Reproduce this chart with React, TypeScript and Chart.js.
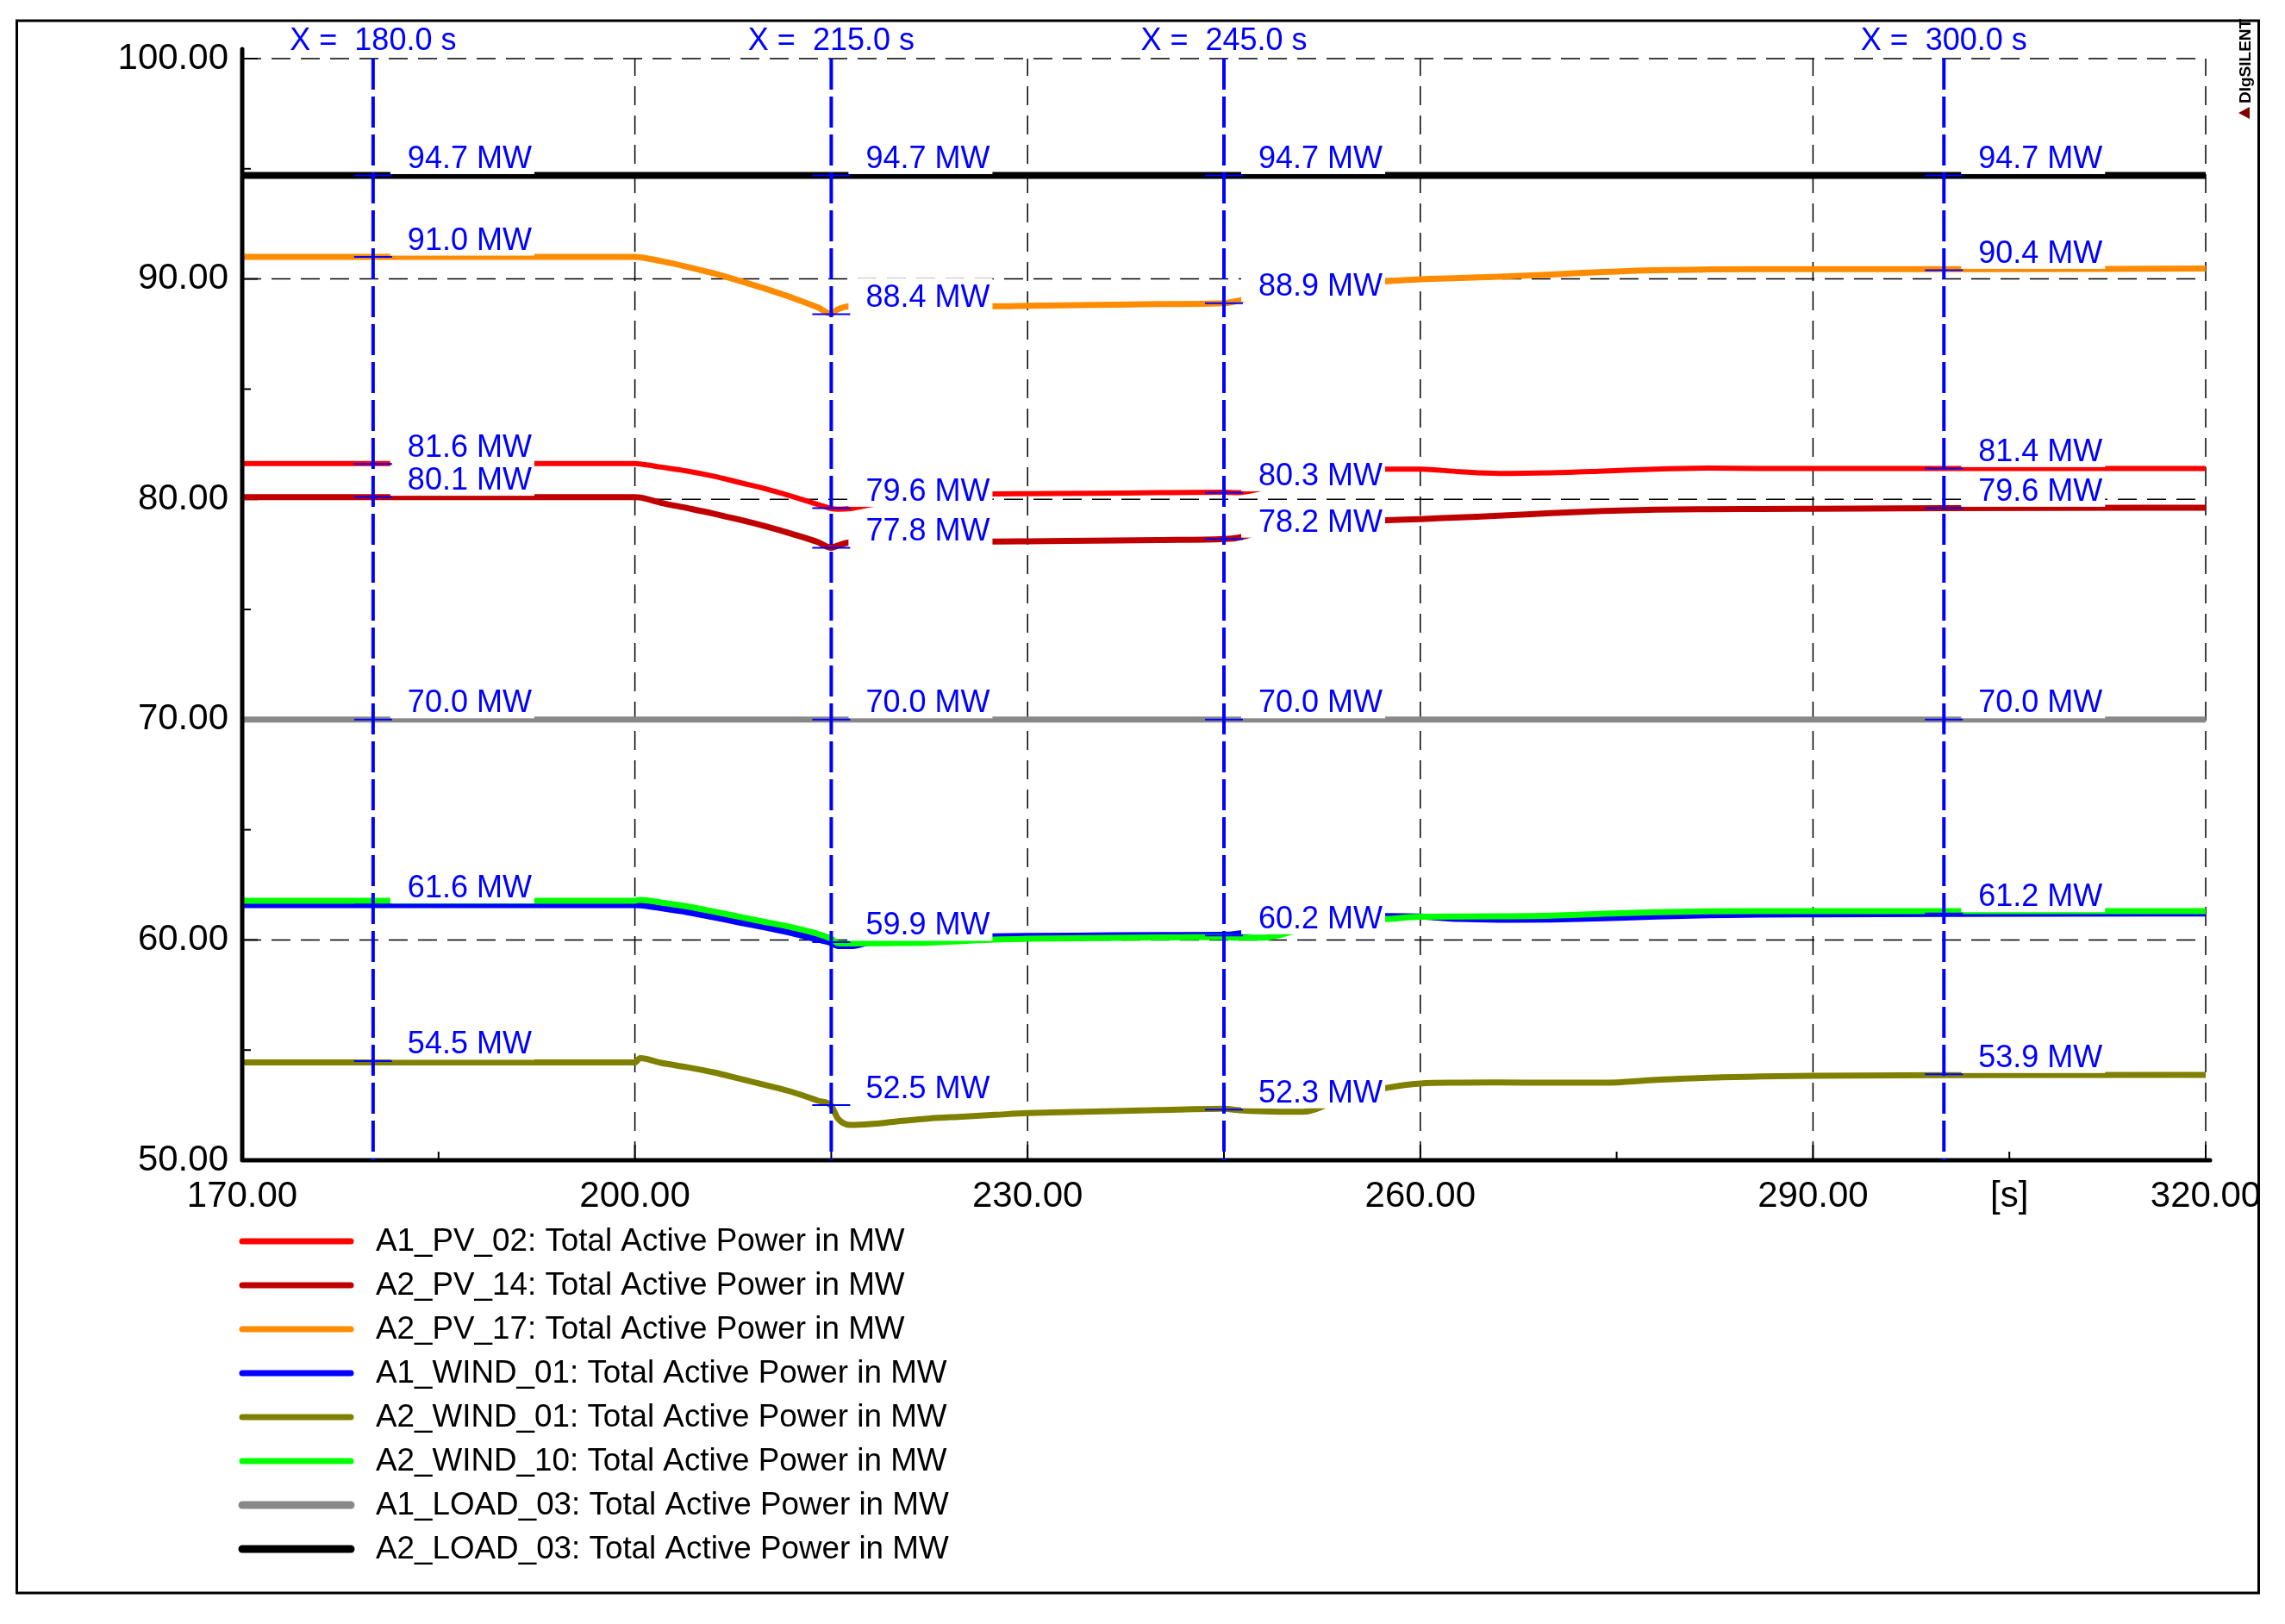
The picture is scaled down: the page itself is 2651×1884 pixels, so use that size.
import React, { useEffect, useRef } from 'react';
import { Chart, registerables } from 'chart.js';

Chart.register(...registerables);

const FONT = '"Liberation Sans", Arial, Helvetica, sans-serif';

// ---------- data ----------
const time = [170, 200, 200.4, 202, 204, 206, 208, 210, 212, 214, 215, 215.5, 216.5, 218, 220, 222.5, 225, 227.5, 230, 235, 240, 245, 246, 248, 251, 254, 257.5, 260, 263, 266, 270, 274, 278, 282, 286, 290, 300, 320];
const loadTime = [170, 320];

const a1Pv02 = [81.62, 81.62, 81.6, 81.46, 81.28, 81.05, 80.76, 80.47, 80.13, 79.76, 79.58, 79.55, 79.58, 79.75, 79.98, 80.13, 80.2, 80.24, 80.25, 80.27, 80.3, 80.32, 80.3, 80.5, 81.0, 81.3, 81.37, 81.37, 81.25, 81.17, 81.2, 81.28, 81.37, 81.42, 81.4, 81.4, 81.4, 81.4];
const a2Pv14 = [80.1, 80.1, 80.08, 79.84, 79.6, 79.35, 79.07, 78.77, 78.43, 78.05, 77.8, 77.9, 78.05, 78.06, 78.06, 78.07, 78.08, 78.08, 78.09, 78.12, 78.15, 78.2, 78.25, 78.55, 78.85, 78.98, 79.05, 79.1, 79.18, 79.25, 79.37, 79.47, 79.53, 79.55, 79.56, 79.57, 79.6, 79.62];
const a2Pv17 = [91.0, 91.0, 90.98, 90.81, 90.55, 90.26, 89.91, 89.55, 89.15, 88.7, 88.42, 88.62, 88.76, 88.76, 88.75, 88.75, 88.76, 88.76, 88.78, 88.82, 88.86, 88.9, 89.0, 89.3, 89.6, 89.8, 89.9, 89.98, 90.04, 90.1, 90.2, 90.32, 90.4, 90.43, 90.44, 90.44, 90.44, 90.47];
const a1Wind01 = [61.58, 61.58, 61.57, 61.44, 61.26, 61.03, 60.79, 60.56, 60.31, 60.01, 59.86, 59.72, 59.72, 59.9, 60.0, 60.08, 60.13, 60.16, 60.18, 60.2, 60.22, 60.23, 60.28, 60.5, 60.85, 61.05, 61.08, 61.06, 60.95, 60.92, 60.93, 60.98, 61.06, 61.12, 61.15, 61.16, 61.18, 61.2];
const a2Wind01 = [54.44, 54.44, 54.64, 54.42, 54.22, 53.99, 53.7, 53.41, 53.1, 52.7, 52.47, 51.9, 51.6, 51.64, 51.76, 51.9, 51.98, 52.06, 52.14, 52.21, 52.28, 52.34, 52.28, 52.22, 52.2, 52.8, 53.29, 53.48, 53.52, 53.53, 53.52, 53.52, 53.65, 53.75, 53.8, 53.83, 53.86, 53.87];
const a2Wind10 = [61.78, 61.78, 61.82, 61.7, 61.52, 61.29, 61.05, 60.81, 60.57, 60.27, 60.05, 59.85, 59.84, 59.85, 59.86, 59.88, 59.95, 60.02, 60.05, 60.08, 60.11, 60.13, 60.1, 60.1, 60.5, 60.85, 60.95, 61.05, 61.06, 61.07, 61.1, 61.19, 61.26, 61.3, 61.31, 61.31, 61.31, 61.31];
const a1Load03 = [70.0, 70.0];
const a2Load03 = [94.7, 94.7];

const seriesNames = ['A1_PV_02', 'A2_PV_14', 'A2_PV_17', 'A1_WIND_01', 'A2_WIND_01', 'A2_WIND_10', 'A1_LOAD_03', 'A2_LOAD_03'];
const seriesSuffix = ': Total Active Power in MW';

// ticks
const xTicks = [170, 185, 200, 215, 230, 245, 260, 275, 290, 305, 320];
const xMajorTicks = [170, 200, 230, 260, 290, 320];
const xUnitTick = 305;
const xUnitLabel = '[s]';
const yTicks = [50, 55, 60, 65, 70, 75, 80, 85, 90, 95, 100];
const yMajorTicks = [50, 60, 70, 80, 90, 100];

// cursors and readouts
const cursorTimes = [180, 215, 245, 300];
const readout180 = [94.7, 91.0, 81.6, 80.1, 70.0, 61.6, 54.5];
const readout215 = [94.7, 88.4, 79.6, 77.8, 70.0, 59.9, 52.5];
const readout245 = [94.7, 88.9, 80.3, 78.2, 70.0, 60.2, 52.3];
const readout300 = [94.7, 90.4, 81.4, 79.6, 70.0, 61.2, 53.9];

// ---------- styles ----------
const colors = ['#FF0000', '#C00000', '#FF8C00', '#0000FF', '#808000', '#00FF00', '#888888', '#000000'];
const lineWidths = [6, 7, 7, 7, 7, 7, 7, 8];
const legendWidths = [7, 7, 7, 7, 7, 7, 9, 9];

const xSeries = [time, time, time, time, time, time, loadTime, loadTime];
const ySeries = [a1Pv02, a2Pv14, a2Pv17, a1Wind01, a2Wind01, a2Wind10, a1Load03, a2Load03];
const readouts = [readout180, readout215, readout245, readout300];

const line = (ctx: CanvasRenderingContext2D, x1: number, y1: number, x2: number, y2: number) => {
  ctx.beginPath();
  ctx.moveTo(x1, y1);
  ctx.lineTo(x2, y2);
  ctx.stroke();
};

const overlayPlugin = {
  id: 'pfOverlay',
  beforeDraw(chart: any) {
    const { ctx, width, height } = chart;
    ctx.save();
    ctx.fillStyle = '#FFFFFF';
    ctx.fillRect(0, 0, width, height);
    ctx.restore();
  },
  beforeDatasetsDraw(chart: any) {
    const { ctx, chartArea: a } = chart;
    const xs = chart.scales.x;
    const ys = chart.scales.y;
    ctx.save();
    ctx.strokeStyle = '#000000';
    ctx.lineWidth = 1.5;
    ctx.setLineDash([22, 12]);
    xMajorTicks.filter((v) => v !== xs.min).forEach((v) => {
      const px = xs.getPixelForValue(v);
      line(ctx, px, a.bottom, px, a.top);
    });
    yMajorTicks.filter((v) => v !== ys.min).forEach((v) => {
      const py = ys.getPixelForValue(v);
      line(ctx, a.left, py, a.right, py);
    });
    ctx.setLineDash([]);
    ctx.lineWidth = 2;
    xs.ticks.forEach((t: any) => {
      const px = xs.getPixelForValue(t.value);
      const len = xMajorTicks.includes(t.value) ? 18 : 10;
      line(ctx, px, a.bottom, px, a.bottom - len);
    });
    ys.ticks.forEach((t: any) => {
      const py = ys.getPixelForValue(t.value);
      const len = yMajorTicks.includes(t.value) ? 18 : 10;
      line(ctx, a.left, py, a.left + len, py);
    });
    ctx.restore();
  },
  afterDatasetsDraw(chart: any) {
    const { ctx, chartArea: a } = chart;
    const xs = chart.scales.x;
    const ys = chart.scales.y;
    ctx.save();
    // axes
    ctx.strokeStyle = '#000000';
    ctx.lineWidth = 5;
    ctx.lineCap = 'round';
    ctx.lineJoin = 'round';
    ctx.beginPath();
    ctx.moveTo(a.left, a.top - 11);
    ctx.lineTo(a.left, a.bottom);
    ctx.lineTo(a.right + 5, a.bottom);
    ctx.stroke();
    ctx.lineCap = 'butt';

    // value labels with white boxes
    ctx.font = `36px ${FONT}`;
    ctx.textAlign = 'left';
    ctx.textBaseline = 'alphabetic';
    cursorTimes.forEach((t, k) => {
      const cx = xs.getPixelForValue(t);
      readouts[k].forEach((v) => {
        const vy = ys.getPixelForValue(v);
        const text = `${v.toFixed(1)} MW`;
        const w = ctx.measureText(text).width;
        const base = vy - 8.5;
        ctx.fillStyle = '#FFFFFF';
        ctx.fillRect(cx + 20, base - 33, w + 23, 40);
        ctx.fillStyle = '#0000FF';
        ctx.fillText(text, cx + 40, base);
      });
    });

    // cursor lines
    ctx.strokeStyle = '#0000FF';
    ctx.lineWidth = 4;
    ctx.setLineDash([36, 8]);
    cursorTimes.forEach((t) => {
      const cx = xs.getPixelForValue(t);
      line(ctx, cx, a.top, cx, a.bottom);
    });
    ctx.setLineDash([]);
    ctx.lineWidth = 2;
    cursorTimes.forEach((t, k) => {
      const cx = xs.getPixelForValue(t);
      readouts[k].forEach((v) => {
        const vy = ys.getPixelForValue(v);
        line(ctx, cx - 22, vy, cx + 22, vy);
      });
    });
    // cursor captions
    ctx.fillStyle = '#0000FF';
    ctx.textAlign = 'center';
    ctx.font = `36px ${FONT}`;
    cursorTimes.forEach((t) => {
      const cx = xs.getPixelForValue(t);
      ctx.fillText(`X =  ${t.toFixed(1)} s`, cx, a.top - 10);
    });
    ctx.restore();
  },
  afterDraw(chart: any) {
    const { ctx } = chart;
    ctx.save();
    // legend
    ctx.font = `36.8px ${FONT}`;
    ctx.textAlign = 'left';
    ctx.textBaseline = 'middle';
    ctx.lineCap = 'round';
    chart.data.datasets.forEach((ds: any, i: number) => {
      const ly = 1440 + i * 51;
      ctx.strokeStyle = ds.borderColor;
      ctx.lineWidth = legendWidths[i];
      line(ctx, 281, ly, 407, ly);
      ctx.fillStyle = '#000000';
      ctx.fillText(ds.label, 436, ly + 1);
    });
    // logo
    ctx.save();
    ctx.translate(2611, 120);
    ctx.rotate(-Math.PI / 2);
    ctx.font = `bold 19px ${FONT}`;
    ctx.fillStyle = '#000000';
    ctx.textBaseline = 'alphabetic';
    ctx.textAlign = 'left';
    ctx.fillText('DIgSILENT', 0, 0);
    ctx.restore();
    ctx.fillStyle = '#800000';
    ctx.beginPath();
    ctx.moveTo(2597, 131);
    ctx.lineTo(2610, 124);
    ctx.lineTo(2610, 138);
    ctx.closePath();
    ctx.fill();
    // frame
    ctx.strokeStyle = '#000000';
    ctx.lineWidth = 3;
    ctx.lineCap = 'butt';
    ctx.strokeRect(19.5, 24, 2601, 1824);
    ctx.restore();
  },
};

export default function App() {
  const ref = useRef<HTMLCanvasElement>(null);

  useEffect(() => {
    if (!ref.current) return;
    const datasets = ySeries.map((vals, i) => ({
      label: seriesNames[i] + seriesSuffix,
      data: vals.map((v, j) => ({ x: xSeries[i][j], y: v })),
      borderColor: colors[i],
      backgroundColor: colors[i],
      borderWidth: lineWidths[i],
      pointRadius: 0,
      pointHoverRadius: 0,
      fill: false,
      cubicInterpolationMode: 'monotone' as const,
      borderCapStyle: 'round' as const,
      borderJoinStyle: 'round' as const,
      order: 20 - i,
    }));

    const chart = new Chart(ref.current, {
      type: 'line',
      data: { datasets },
      plugins: [overlayPlugin],
      options: {
        responsive: false,
        animation: false,
        events: [],
        layout: { padding: { left: 0, right: 92, top: 68, bottom: 438 } },
        plugins: {
          legend: { display: false },
          tooltip: { enabled: false },
          title: { display: false },
        },
        scales: {
          x: {
            type: 'linear',
            min: 170,
            max: 320,
            afterBuildTicks: (scale: any) => {
              scale.ticks = xTicks.map((v) => ({ value: v }));
            },
            afterFit: (scale: any) => {
              scale.height = 100;
            },
            ticks: {
              autoSkip: false,
              maxRotation: 0,
              minRotation: 0,
              padding: 9,
              color: '#000000',
              font: { family: FONT, size: 42 },
              callback: (value: any) => {
                const v = Number(value);
                if (v === xUnitTick) return xUnitLabel;
                return xMajorTicks.includes(v) ? v.toFixed(2) : '';
              },
            },
            grid: { display: false },
            border: { display: false },
          },
          y: {
            type: 'linear',
            min: 50,
            max: 100,
            afterBuildTicks: (scale: any) => {
              scale.ticks = yTicks.map((v) => ({ value: v }));
            },
            afterFit: (scale: any) => {
              scale.width = 281;
            },
            ticks: {
              autoSkip: false,
              padding: 8,
              color: '#000000',
              font: { family: FONT, size: 42 },
              callback: (value: any) => {
                const v = Number(value);
                return yMajorTicks.includes(v) ? v.toFixed(2) : '';
              },
            },
            grid: { display: false },
            border: { display: false },
          },
        },
      },
    } as any);

    return () => chart.destroy();
  }, []);

  return (
    <div style={{ position: 'fixed', left: 0, top: 0, width: 2651, height: 1884, background: '#FFFFFF' }}>
      <canvas ref={ref} width={2651} height={1884} style={{ display: 'block', width: 2651, height: 1884 }} />
    </div>
  );
}
